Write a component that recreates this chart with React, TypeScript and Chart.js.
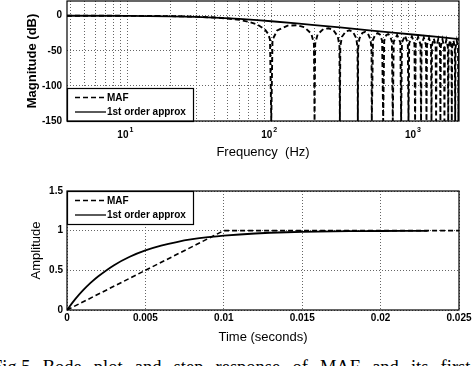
import React, { useEffect, useRef } from "react";
import { Chart, registerables } from "chart.js";

Chart.register(...registerables);

// ---------- Bode magnitude data ----------
const MAF_FREQ = [
  3.8, 10, 20, 30, 40, 50, 60, 70, 80, 90, 95, 98, 100,
  102, 110, 130, 150, 170, 190, 198, 200,
  202, 210, 230, 250, 270, 290, 298, 300,
  302, 310, 330, 350, 370, 390, 398, 400,
  402, 410, 430, 450, 470, 490, 498, 500,
  510, 530, 550, 570, 590, 600,
  610, 630, 650, 670, 690, 700,
  710, 750, 790, 800,
  810, 850, 890, 900,
  910, 950, 990, 1000,
  1010, 1050, 1090, 1100,
  1110, 1150, 1190, 1200,
  1210, 1250, 1290, 1300,
  1310, 1350, 1390, 1400,
  1410, 1450, 1490, 1500,
  1510, 1550, 1590, 1600,
  1610, 1650, 1690, 1700,
  1710, 1750, 1790, 1800,
  1810, 1850, 1890, 1900,
  1910, 1950, 1990, 2000,
  2020,
];
const MAF_DB = [
  -0.02, -0.14, -0.57, -1.33, -2.42, -3.92, -5.94, -8.68, -12.6, -19.2, -25.6, -33.8, -150,
  -34.2, -21.0, -14.1, -13.5, -16.4, -25.7, -39.9, -150,
  -40.1, -26.6, -19.0, -17.9, -20.4, -29.4, -43.5, -150,
  -43.6, -30.0, -22.2, -20.8, -23.1, -32.0, -46.0, -150,
  -46.1, -32.4, -24.5, -23.0, -25.2, -33.9, -47.9, -150,
  -34.3, -26.3, -24.8, -26.9, -35.6, -150,
  -35.8, -27.8, -26.2, -28.3, -36.9, -150,
  -37.2, -27.4, -38.1, -150,
  -38.3, -28.5, -39.1, -150,
  -39.3, -29.5, -40.1, -150,
  -40.2, -30.4, -40.9, -150,
  -41.0, -31.2, -41.7, -150,
  -41.8, -31.9, -42.4, -150,
  -42.5, -32.5, -43.0, -150,
  -43.1, -33.2, -43.6, -150,
  -43.7, -33.7, -44.2, -150,
  -44.3, -34.3, -44.7, -150,
  -44.8, -34.8, -45.2, -150,
  -45.3, -35.3, -45.7, -150,
  -45.8, -35.7, -46.1, -150,
  -40.7,
];
const FO_FREQ = [3.8, 10, 20, 30, 44, 60, 80, 100, 150, 200, 300, 500, 700, 1000, 1500, 2020];
const FO_DB = [-0.03, -0.22, -0.81, -1.65, -2.99, -4.54, -6.3, -7.87, -10.97, -13.32, -16.73, -21.1, -24.0, -27.1, -30.6, -33.2];

const FREQ_GRID = [4, 5, 6, 7, 8, 9, 10, 20, 30, 40, 50, 60, 70, 80, 90, 100, 200, 300, 400, 500, 600, 700, 800, 900, 1000, 2000];
const FREQ_DECADES = [10, 100, 1000];
const FREQ_EXPONENTS = ["1", "2", "3"];
const MAG_TICKS = [-150, -100, -50, 0];

// ---------- Step response data ----------
const STEP_T_MAF = [0, 0.01, 0.025];
const STEP_MAF = [0, 1, 1];
const STEP_T_FO = [0, 0.0005, 0.001, 0.0015, 0.002, 0.003, 0.004, 0.005, 0.006, 0.007, 0.008, 0.009, 0.01, 0.012, 0.014, 0.016, 0.018, 0.02, 0.023];
const STEP_FO = [0, 0.13, 0.243, 0.341, 0.426, 0.565, 0.671, 0.751, 0.811, 0.857, 0.892, 0.918, 0.938, 0.964, 0.98, 0.988, 0.993, 0.996, 0.998];

const TIME_TICKS = [0, 0.005, 0.01, 0.015, 0.02, 0.025];
const TIME_LABELS = ["0", "0.005", "0.01", "0.015", "0.02", "0.025"];
const AMP_TICKS = [0, 0.5, 1, 1.5];
const AMP_LABELS = ["0", "0.5", "1", "1.5"];

const LEGEND_LABELS = ["MAF", "1st order approx"];

const FONT = "'Liberation Sans', Arial, sans-serif";
const MAF_DASH = [5, 3];

const toXY = (xs: number[], ys: number[]) => xs.map((x, i) => ({ x, y: ys[i] }));

function framePlugin(legendAt: "bottom" | "top", decadeLabels: boolean) {
  return {
    id: "frameLegend",
    afterDatasetsDraw(chart: any) {
      const { ctx, chartArea } = chart;
      const { left, right, top, bottom } = chartArea;
      ctx.save();
      // legend box
      const bw = 126;
      const bh = 33;
      const bx = left;
      const by = legendAt === "bottom" ? bottom - bh : top;
      ctx.fillStyle = "#fff";
      ctx.fillRect(bx, by, bw, bh);
      ctx.strokeStyle = "#000";
      ctx.lineWidth = 1.2;
      ctx.setLineDash([]);
      ctx.strokeRect(bx + 0.5, by + 0.5, bw, bh);
      const rows = [by + 9.5, by + 24];
      ctx.font = `bold 10px ${FONT}`;
      ctx.textBaseline = "middle";
      ctx.fillStyle = "#000";
      rows.forEach((ry, i) => {
        ctx.beginPath();
        ctx.lineWidth = 1.3;
        ctx.setLineDash(i === 0 ? MAF_DASH : []);
        ctx.moveTo(bx + 8, ry);
        ctx.lineTo(bx + 39, ry);
        ctx.stroke();
        ctx.setLineDash([]);
        ctx.fillText(LEGEND_LABELS[i], bx + 40, ry + 0.5);
      });
      // frame
      ctx.lineWidth = 1.2;
      ctx.strokeStyle = "#000";
      ctx.strokeRect(left, top, right - left, bottom - top);
      // decade labels 10^n
      if (decadeLabels) {
        const xs = chart.scales.x;
        FREQ_DECADES.forEach((v, i) => {
          const px = xs.getPixelForValue(v);
          ctx.font = `bold 10px ${FONT}`;
          ctx.textAlign = "right";
          ctx.textBaseline = "middle";
          ctx.fillText("10", px + 1, bottom + 14);
          ctx.font = `bold 7px ${FONT}`;
          ctx.textAlign = "left";
          ctx.fillText(FREQ_EXPONENTS[i], px + 2, bottom + 9);
        });
      }
      ctx.restore();
    },
  };
}

const gridStyle = {
  color: "#666",
  lineWidth: 1,
  drawTicks: false,
};

function BodeChart() {
  const ref = useRef<HTMLCanvasElement>(null);
  useEffect(() => {
    const chart = new Chart(ref.current!, {
      type: "line",
      data: {
        datasets: [
          {
            label: LEGEND_LABELS[0],
            data: toXY(MAF_FREQ, MAF_DB),
            borderColor: "#000",
            borderWidth: 1.9,
            borderDash: MAF_DASH,
            pointRadius: 0,
            tension: 0,
          },
          {
            label: LEGEND_LABELS[1],
            data: toXY(FO_FREQ, FO_DB),
            borderColor: "#000",
            borderWidth: 1.8,
            pointRadius: 0,
            tension: 0,
          },
        ],
      },
      options: {
        animation: false,
        responsive: false,
        events: [],
        layout: { padding: { left: 0, right: 15, top: 1, bottom: 0 } },
        plugins: { legend: { display: false }, tooltip: { enabled: false } },
        scales: {
          x: {
            type: "logarithmic",
            min: 3.8,
            max: 2020,
            afterBuildTicks: (s: any) => {
              s.ticks = FREQ_GRID.map((v) => ({ value: v }));
            },
            afterFit: (s: any) => {
              s.height = 39;
              s.paddingLeft = 0;
              s.paddingRight = 0;
            },
            ticks: {
              autoSkip: false,
              maxRotation: 0,
              padding: 8,
              color: "#000",
              font: { family: FONT, size: 10, weight: "bold" },
              callback: () => "",
            },
            grid: { ...gridStyle },
            border: { display: false, dash: [1, 2] },
            title: {
              display: true,
              text: "Frequency  (Hz)",
              color: "#000",
              font: { family: FONT, size: 13 },
              padding: { top: 0, bottom: 0 },
            },
          },
          y: {
            type: "linear",
            min: -150,
            max: 21,
            afterBuildTicks: (s: any) => {
              s.ticks = MAG_TICKS.map((v) => ({ value: v }));
            },
            afterFit: (s: any) => {
              s.width = 67;
              s.paddingTop = 0;
              s.paddingBottom = 0;
            },
            ticks: {
              padding: 5,
              color: "#000",
              font: { family: FONT, size: 10, weight: "bold" },
              callback: (v: any) => String(v),
            },
            grid: { ...gridStyle },
            border: { display: false, dash: [1, 2] },
            title: {
              display: true,
              text: "Magnitude (dB)",
              color: "#000",
              font: { family: FONT, size: 13, weight: "bold" },
              padding: { top: 25, bottom: 0 },
            },
          },
        },
      },
      plugins: [framePlugin("bottom", true)],
    } as any);
    return () => chart.destroy();
  }, []);
  return (
    <canvas
      ref={ref}
      width={474}
      height={160}
      style={{ position: "absolute", left: 0, top: 0, width: 474, height: 160 }}
    />
  );
}

function StepChart() {
  const ref = useRef<HTMLCanvasElement>(null);
  useEffect(() => {
    const chart = new Chart(ref.current!, {
      type: "line",
      data: {
        datasets: [
          {
            label: LEGEND_LABELS[0],
            data: toXY(STEP_T_MAF, STEP_MAF),
            borderColor: "#000",
            borderWidth: 1.6,
            borderDash: MAF_DASH,
            pointRadius: 0,
            tension: 0,
          },
          {
            label: LEGEND_LABELS[1],
            data: toXY(STEP_T_FO, STEP_FO),
            borderColor: "#000",
            borderWidth: 1.8,
            pointRadius: 0,
            tension: 0.3,
          },
        ],
      },
      options: {
        animation: false,
        responsive: false,
        events: [],
        layout: { padding: { left: 0, right: 15, top: 21, bottom: 0 } },
        plugins: { legend: { display: false }, tooltip: { enabled: false } },
        scales: {
          x: {
            type: "linear",
            min: 0,
            max: 0.025,
            afterBuildTicks: (s: any) => {
              s.ticks = TIME_TICKS.map((v) => ({ value: v }));
            },
            afterFit: (s: any) => {
              s.height = 35;
            },
            ticks: {
              autoSkip: false,
              maxRotation: 0,
              padding: 2,
              color: "#000",
              font: { family: FONT, size: 10, weight: "bold" },
              callback: (_v: any, i: number) => TIME_LABELS[i],
            },
            grid: { ...gridStyle },
            border: { display: false, dash: [1, 2] },
            title: {
              display: true,
              text: "Time (seconds)",
              color: "#000",
              font: { family: FONT, size: 13 },
              padding: { top: 0, bottom: 0 },
            },
          },
          y: {
            type: "linear",
            min: 0,
            max: 1.5,
            afterBuildTicks: (s: any) => {
              s.ticks = AMP_TICKS.map((v) => ({ value: v }));
            },
            afterFit: (s: any) => {
              s.width = 67;
            },
            ticks: {
              padding: 4,
              color: "#000",
              font: { family: FONT, size: 10, weight: "bold" },
              callback: (_v: any, i: number) => AMP_LABELS[i],
            },
            grid: { ...gridStyle },
            border: { display: false, dash: [1, 2] },
            title: {
              display: true,
              text: "Amplitude",
              color: "#000",
              font: { family: FONT, size: 13 },
              padding: { top: 29, bottom: 0 },
            },
          },
        },
      },
      plugins: [framePlugin("top", false)],
    } as any);
    return () => chart.destroy();
  }, []);
  return (
    <canvas
      ref={ref}
      width={474}
      height={175}
      style={{ position: "absolute", left: 0, top: 170, width: 474, height: 175 }}
    />
  );
}

export default function App() {
  return (
    <div
      style={{
        position: "fixed",
        left: 0,
        top: 0,
        width: 474,
        height: 366,
        overflow: "hidden",
        background: "#fff",
      }}
    >
      <BodeChart />
      <StepChart />
      <div
        style={{
          position: "absolute",
          left: -8,
          top: 358,
          whiteSpace: "nowrap",
          fontFamily: "'Liberation Serif', 'Times New Roman', serif",
          fontSize: 18.5,
          lineHeight: "18px",
          wordSpacing: 7.5,
          color: "#000",
        }}
      >
        Fig.5 Bode plot and step response of MAF and its first-order approximation
      </div>
    </div>
  );
}
